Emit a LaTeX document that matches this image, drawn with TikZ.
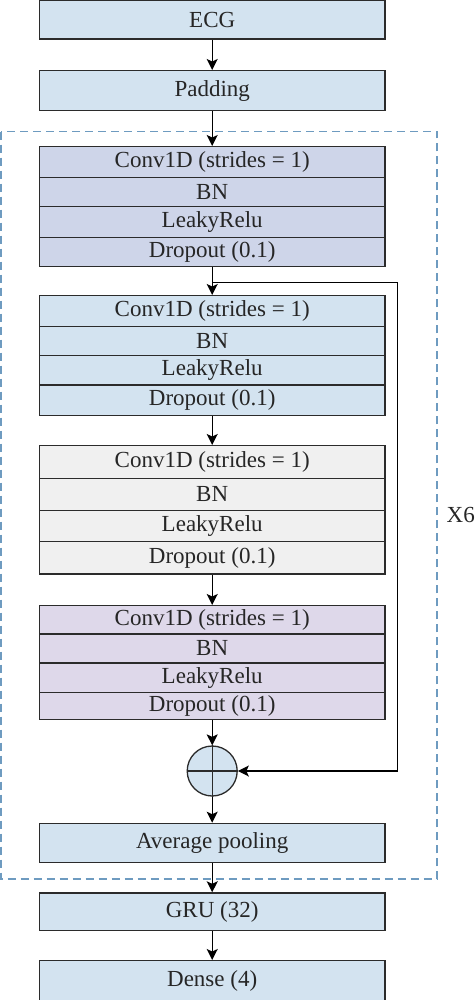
\documentclass[tikz,border=0pt]{standalone}
\usepackage{fontspec}
\setmainfont{Liberation Serif}
\usetikzlibrary{arrows.meta}
\definecolor{lblue}{HTML}{D3E3F0}
\definecolor{bpurple}{HTML}{CED5E9}
\definecolor{lgray}{HTML}{F0F0F0}
\definecolor{lav}{HTML}{DED8EA}
\definecolor{dashc}{HTML}{6E9BC0}
\definecolor{edge}{HTML}{2B2B2B}
\tikzset{
  layer/.style={draw=edge, line width=1.2pt, minimum width=345.5pt, inner sep=0pt, anchor=north,
    font=\fontsize{23}{27}\selectfont, text=black!85},
  conn/.style={line width=1.3pt, -{Stealth[length=11pt,width=11pt,inset=2.5pt]}},
  plain/.style={line width=1.3pt},
  group/.style={draw=dashc, line width=1.5pt, dash pattern=on 8pt off 5pt}
}
\begin{document}
\begin{tikzpicture}[x=1pt,y=1pt]
\useasboundingbox (0,0) rectangle (474,-1000);
% dashed group
\draw[group] (1,-131.7) rectangle (437,-879);
% top boxes
\node[layer, fill=lblue, minimum height=39pt] (ecg) at (212.2,0.5) {ECG};
\node[layer, fill=lblue, minimum height=40pt] (pad) at (212.2,-70) {Padding};
% block 1
\node[layer, fill=bpurple, minimum height=31pt] (c1) at (212.2,-146) {Conv1D (strides = 1)};
\node[layer, fill=bpurple, minimum height=29pt] (b1) at (212.2,-177) {BN};
\node[layer, fill=bpurple, minimum height=30.7pt] (l1) at (212.2,-206) {LeakyRelu};
\node[layer, fill=bpurple, minimum height=29.3pt] (d1) at (212.2,-236.7) {Dropout (0.1)};
% block 2
\node[layer, fill=lblue, minimum height=30.7pt] (c2) at (212.2,-295) {Conv1D (strides = 1)};
\node[layer, fill=lblue, minimum height=29.3pt] (b2) at (212.2,-325.7) {BN};
\node[layer, fill=lblue, minimum height=29.3pt] (l2) at (212.2,-355) {LeakyRelu};
\node[layer, fill=lblue, minimum height=30.7pt] (d2) at (212.2,-384.3) {Dropout (0.1)};
% block 3
\node[layer, fill=lgray, minimum height=32.7pt] (c3) at (212.2,-445) {Conv1D (strides = 1)};
\node[layer, fill=lgray, minimum height=32.3pt] (b3) at (212.2,-477.7) {BN};
\node[layer, fill=lgray, minimum height=31pt] (l3) at (212.2,-510) {LeakyRelu};
\node[layer, fill=lgray, minimum height=32.3pt] (d3) at (212.2,-541) {Dropout (0.1)};
% block 4
\node[layer, fill=lav, minimum height=28.3pt] (c4) at (212.2,-605) {Conv1D (strides = 1)};
\node[layer, fill=lav, minimum height=29pt] (b4) at (212.2,-633.3) {BN};
\node[layer, fill=lav, minimum height=29.4pt] (l4) at (212.2,-662.3) {LeakyRelu};
\node[layer, fill=lav, minimum height=27.3pt] (d4) at (212.2,-691.7) {Dropout (0.1)};
% sum
\node[circle, draw=edge, line width=1.3pt, fill=lblue, minimum size=50pt, inner sep=0pt] (sum) at (212.2,-771) {};
\draw[plain, draw=edge] (sum.north) -- (sum.south);
\draw[plain, draw=edge] (sum.west) -- (sum.east);
% bottom boxes
\node[layer, fill=lblue, minimum height=39pt] (avg) at (212.2,-822.7) {Average pooling};
\node[layer, fill=lblue, minimum height=37.7pt] (gru) at (212.2,-892.3) {GRU (32)};
\node[layer, fill=lblue, minimum height=40pt] (dense) at (212.2,-960) {Dense (4)};
% label
\node[anchor=west, inner sep=0pt, font=\fontsize{23}{27}\selectfont, text=black!85] (x6) at (446.5,-515) {X6};
% connectors
\draw[conn] (ecg.south) -- (pad.north);
\draw[conn] (pad.south) -- (c1.north);
\coordinate (split) at (d1.south |- 0,-282.3);
\coordinate (rt) at (397.3,-282.3);
\coordinate (rb) at (397.3,-771);
\draw[conn] (d1.south) -- (c2.north);
\draw[conn] (split) -- (rt) -- (rb) -- (sum.east);
\draw[conn] (d2.south) -- (c3.north);
\draw[conn] (d3.south) -- (c4.north);
\draw[conn] (d4.south) -- (sum.north);
\draw[conn] (sum.south) -- (avg.north);
\draw[conn] (avg.south) -- (gru.north);
\draw[conn] (gru.south) -- (dense.north);
\end{tikzpicture}
\end{document}
